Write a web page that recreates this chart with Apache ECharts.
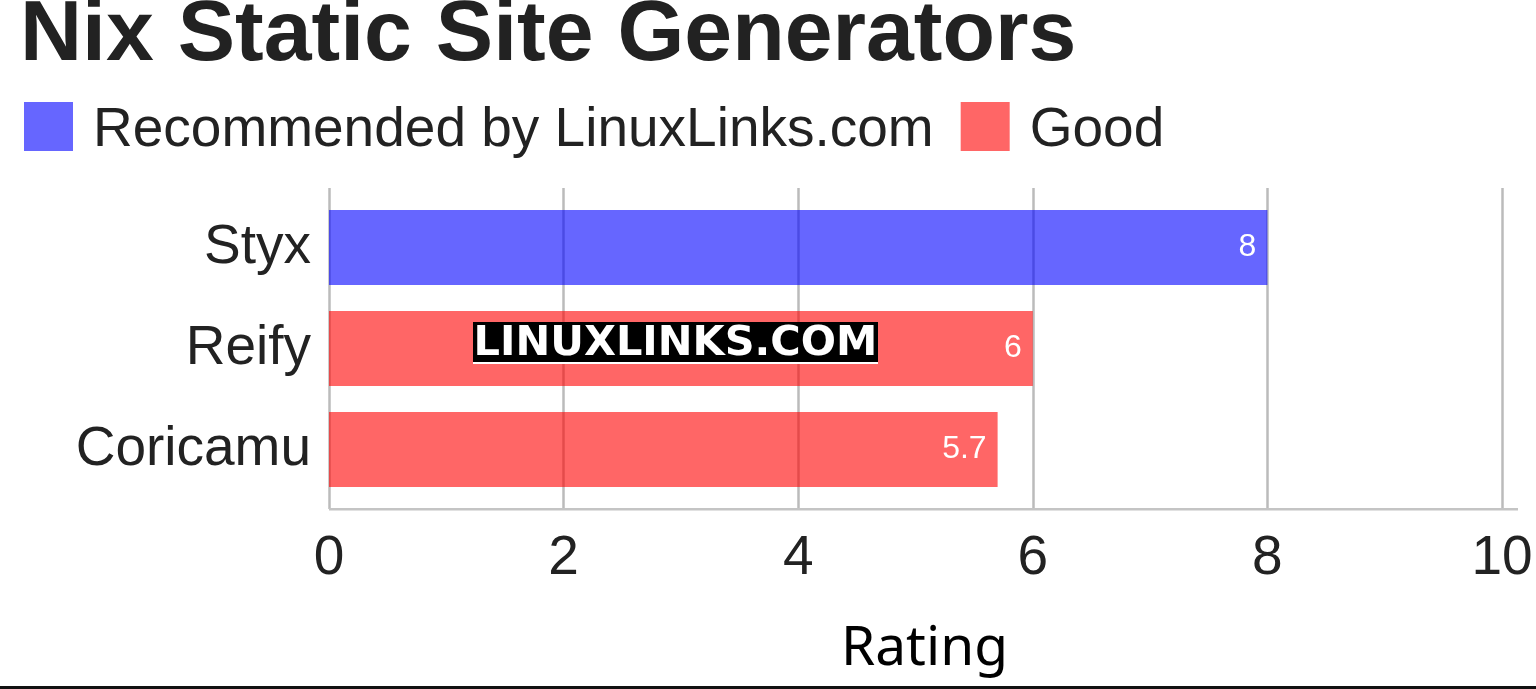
<!DOCTYPE html>
<html>
<head>
<meta charset="utf-8">
<script src="https://cdn.jsdelivr.net/npm/echarts@6/dist/echarts.min.js"></script>
<style>
html,body{margin:0;padding:0;background:#fff;}
#c{width:1536px;height:689px;}
</style>
</head>
<body>
<div id="c"></div>
<script>
const titleText = 'Nix Static Site Generators';
const categories = ['Styx', 'Reify', 'Coricamu'];
const seriesNames = ['Recommended by LinuxLinks.com', 'Good'];
const recommendedValues = [8, '-', '-'];
const goodValues = ['-', 6, 5.7];
const xTicks = [0, 2, 4, 6, 8, 10];
const axisName = 'Rating';
const watermark = 'LINUXLINKS.COM';

const chart = echarts.init(document.getElementById('c'), null, {renderer: 'canvas'});
const F = 'Liberation Sans, Arial, sans-serif';
const xMin = xTicks[0], xMax = xTicks[xTicks.length - 1];
const option = {
  animation: false,
  backgroundColor: '#fff',
  grid: [
    {left: 329, right: 34, top: 188, bottom: 180, containLabel: false},
    {left: 329, right: 34, top: 197, bottom: 189, containLabel: false}
  ],
  legend: {
    left: 24, top: 102, padding: 0, itemWidth: 49, itemHeight: 49, itemGap: 27,
    icon: 'rect',
    formatter: '{a|{name}}',
    textStyle: {
      fontFamily: F, fontSize: 55, color: '#222', padding: [0, 0, 0, 15],
      rich: {a: {fontFamily: F, fontSize: 55, color: '#222', padding: [8, 0, 0, 0]}}
    },
    data: seriesNames
  },
  xAxis: [
    {
      gridIndex: 0, type: 'value', min: xMin, max: xMax, interval: 2,
      name: axisName, nameLocation: 'middle', nameGap: 113,
      nameTextStyle: {fontFamily: 'Noto Sans', fontSize: 55, color: '#000', padding: [0, 0, 0, 18]},
      axisLine: {show: false},
      axisTick: {show: false},
      axisLabel: {fontFamily: F, fontSize: 55, color: '#222', margin: 22},
      splitLine: {show: true, lineStyle: {color: '#bbbbbb', width: 2.5}}
    },
    {
      gridIndex: 1, type: 'value', min: xMin, max: xMax, interval: 2, show: false,
      splitLine: {show: false}
    }
  ],
  yAxis: [
    {
      gridIndex: 0, type: 'category', data: categories, inverse: true, show: false
    },
    {
      gridIndex: 1, type: 'category', data: categories, inverse: true,
      axisLine: {show: false}, axisTick: {show: false},
      axisLabel: {fontFamily: F, fontSize: 55, color: '#222', margin: 18},
      splitLine: {show: false}
    }
  ],
  series: [
    {
      name: seriesNames[0], type: 'bar', stack: 's', data: recommendedValues,
      xAxisIndex: 1, yAxisIndex: 1, barWidth: 75,
      itemStyle: {color: 'rgba(0,0,255,0.6)'},
      label: {show: true, position: 'insideRight', distance: 11, color: '#fff', fontFamily: F, fontSize: 32}
    },
    {
      name: seriesNames[1], type: 'bar', stack: 's', data: goodValues,
      xAxisIndex: 1, yAxisIndex: 1, barWidth: 75,
      itemStyle: {color: 'rgba(255,0,0,0.6)'},
      label: {show: true, position: 'insideRight', distance: 11, color: '#fff', fontFamily: F, fontSize: 32}
    }
  ],
  graphic: [
    {type: 'text', left: 20, top: -7, style: {text: titleText, fontFamily: F, fontWeight: 'bold', fontSize: 86, fill: '#222'}},
    {type: 'rect', shape: {x: 329, y: 508, width: 1189, height: 2.5}, style: {fill: '#c4c4c4'}, z: 5},
    {type: 'rect', shape: {x: 473, y: 322, width: 405, height: 40}, style: {fill: '#000'}, z: 20},
    {type: 'rect', shape: {x: 473, y: 362, width: 405, height: 2}, style: {fill: '#fff'}, z: 20},
    {type: 'text', x: 675.5, y: 344, z: 21, style: {text: watermark, fontFamily: 'DejaVu Sans', fontWeight: 'bold', fontSize: 41.5, fill: '#fff', align: 'center', verticalAlign: 'middle'}},
    {type: 'rect', shape: {x: 0, y: 686, width: 1536, height: 3}, style: {fill: '#111'}, z: 20}
  ]
};
chart.setOption(option);
</script>
</body>
</html>
